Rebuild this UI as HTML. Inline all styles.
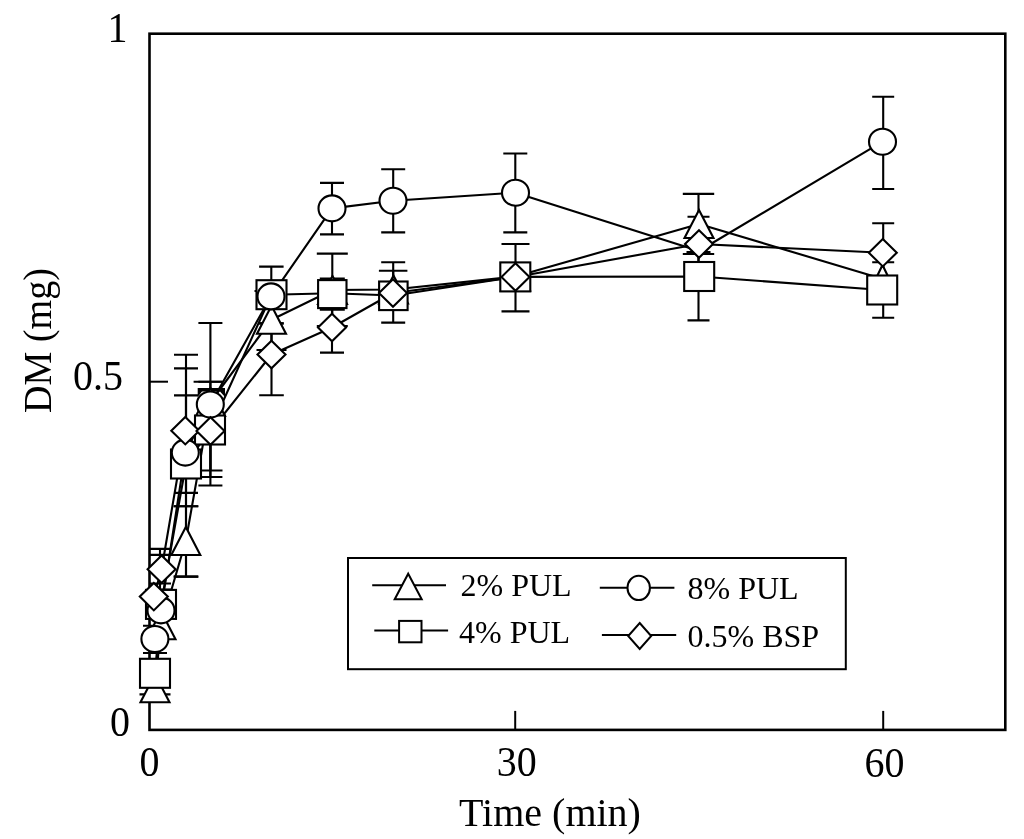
<!DOCTYPE html>
<html lang="en"><head><meta charset="utf-8"><title>DM release vs time</title>
<style>html,body{margin:0;padding:0;background:#fff}body{width:1024px;height:839px;overflow:hidden}svg{display:block}text{font-family:"Liberation Serif","DejaVu Serif",serif;fill:#000}</style>
</head><body>
<svg width="1024" height="839" viewBox="0 0 1024 839">
<rect x="0" y="0" width="1024" height="839" fill="#fff"/>
<g fill="none" stroke="#000" stroke-width="2.6" stroke-linecap="butt">
<rect x="149.5" y="33.7" width="855.8" height="696.2"/>
</g>
<g fill="none" stroke="#000" stroke-width="2">
<line x1="149.5" y1="381.7" x2="168" y2="381.7"/>
<line x1="515.2" y1="710.9" x2="515.2" y2="730"/>
<line x1="883.2" y1="710.9" x2="883.2" y2="730"/>
</g>
<g fill="none" stroke="#000" stroke-width="2.1" stroke-linejoin="round">
<polyline points="155.0,688.3 161.0,625.3 185.8,541.0 210.5,402.0 271.5,319.8 332.5,290.0 393.5,289.5 515.5,276.5 699.0,224.0 882.8,279.0"/>
<polyline points="155.0,673.3 161.0,604.4 186.0,464.0 210.0,430.0 271.5,294.7 332.2,293.3 393.5,295.5 515.3,276.9 699.2,276.5 882.2,290.0"/>
<polyline points="154.9,639.0 161.0,610.4 185.3,452.6 210.3,404.5 271.0,296.4 332.0,208.4 393.0,200.8 515.5,192.7 699.0,251.0 882.5,141.7"/>
<polyline points="153.8,596.6 161.6,569.2 185.3,430.7 210.5,431.0 271.5,354.5 332.0,327.5 393.0,293.0 515.5,277.0 699.0,244.0 882.8,252.7"/>
</g>
<g fill="none" stroke="#000" stroke-width="2.1">
<path d="M139.5 682.0H170.5M155.0 682.0V694.4M139.5 694.4H170.5"/>
<path d="M173.5 506.2H198.5M186.0 506.2V576.6M173.5 576.6H198.5"/>
<path d="M256.5 291.0H286.5M271.5 291.0V350.0M256.5 350.0H286.5"/>
<path d="M316.8 253.6H347.8M332.3 253.6V326.0M316.8 326.0H347.8"/>
<path d="M501.5 244.0H529.5M515.5 244.0V311.4M501.5 311.4H529.5"/>
<path d="M682.8 193.9H714.2M698.5 193.9V254.0M682.8 254.0H714.2"/>
<path d="M174.0 354.8H198.0M186.0 354.8V576.6M174.0 576.6H198.0"/>
<path d="M198.5 389.4H222.5M210.5 389.4V470.5M198.5 470.5H222.5"/>
<path d="M259.1 266.6H283.6M271.3 266.6V323.4M259.1 323.4H283.6"/>
<path d="M319.8 278.6H344.8M332.3 278.6V309.6M319.8 309.6H344.8"/>
<path d="M378.9 270.8H407.4M393.2 270.8V306.0M378.9 306.0H407.4"/>
<path d="M687.5 232.6H709.5M698.5 232.6V320.4M687.5 320.4H709.5"/>
<path d="M872.2 262.3H894.2M883.2 262.3V317.7M872.2 317.7H894.2"/>
<path d="M143.0 625.8H167.0M155.0 625.8V653.0M143.0 653.0H167.0"/>
<path d="M174.0 395.4H198.0M186.0 395.4V506.2M174.0 506.2H198.0"/>
<path d="M198.4 323.0H222.4M210.4 323.0V485.5M198.4 485.5H222.4"/>
<path d="M320.0 182.9H344.0M332.0 182.9V234.4M320.0 234.4H344.0"/>
<path d="M381.2 169.2H405.2M393.2 169.2V232.4M381.2 232.4H405.2"/>
<path d="M503.3 153.5H527.3M515.3 153.5V232.4M503.3 232.4H527.3"/>
<path d="M687.5 216.8H709.5M698.5 216.8V285.2M687.5 285.2H709.5"/>
<path d="M872.2 96.7H894.2M883.2 96.7V189.0M872.2 189.0H894.2"/>
<path d="M149.0 548.9H171.0M160.0 548.9V589.5M149.0 589.5H171.0"/>
<path d="M149.0 554.9H171.0M160.0 554.9V583.5M149.0 583.5H171.0"/>
<path d="M174.0 368.4H198.0M186.0 368.4V492.9M174.0 492.9H198.0"/>
<path d="M198.4 381.8H222.4M210.4 381.8V477.0M198.4 477.0H222.4"/>
<path d="M259.2 323.4H283.8M271.5 323.4V395.3M259.2 395.3H283.8"/>
<path d="M320.0 302.5H344.0M332.0 302.5V352.6M320.0 352.6H344.0"/>
<path d="M381.2 262.2H405.2M393.2 262.2V322.6M381.2 322.6H405.2"/>
<path d="M686.5 236.0H710.5M698.5 236.0V252.0M686.5 252.0H710.5"/>
<path d="M872.2 223.3H894.2M883.2 223.3V282.0M872.2 282.0H894.2"/>
<path d="M193.6 381.8H222.7M254.5 291H259"/>
<polygon points="197.7,388 225,388 225,397 220,391.4 202,391.4 197.7,397" fill="#000" stroke="none"/>
</g>
<g fill="#fff" stroke="#000" stroke-width="2.1" stroke-linejoin="miter">
<polygon points="155.0,674.3 169.5,702.3 140.5,702.3"/>
<polygon points="161.0,611.3 175.5,639.3 146.5,639.3"/>
<polygon points="185.8,527.0 200.3,555.0 171.3,555.0"/>
<polygon points="210.5,388.0 225.0,416.0 196.0,416.0"/>
<polygon points="271.5,305.8 286.0,333.8 257.0,333.8"/>
<polygon points="332.5,276.0 347.0,304.0 318.0,304.0"/>
<polygon points="393.5,275.5 408.0,303.5 379.0,303.5"/>
<polygon points="515.5,262.5 530.0,290.5 501.0,290.5"/>
<polygon points="699.0,210.0 713.5,238.0 684.5,238.0"/>
<polygon points="882.5,265.0 896.0,293.0 869.0,293.0"/>
<rect x="140.0" y="658.8" width="30.0" height="29.0"/>
<rect x="146.0" y="589.9" width="30.0" height="29.0"/>
<rect x="171.0" y="449.5" width="30.0" height="29.0"/>
<rect x="195.0" y="415.5" width="30.0" height="29.0"/>
<rect x="256.5" y="280.2" width="30.0" height="29.0"/>
<rect x="318.1" y="280.1" width="28.4" height="28.0"/>
<rect x="379.1" y="281.5" width="28.5" height="28.6"/>
<rect x="500.3" y="262.4" width="30.0" height="29.0"/>
<rect x="684.2" y="262.0" width="30.0" height="29.0"/>
<rect x="867.2" y="275.5" width="30.0" height="29.0"/>
<ellipse cx="154.9" cy="639.0" rx="13.5" ry="13.0"/>
<ellipse cx="161.0" cy="610.4" rx="13.5" ry="13.0"/>
<ellipse cx="185.3" cy="452.6" rx="13.5" ry="13.0"/>
<ellipse cx="210.3" cy="404.5" rx="13.5" ry="13.0"/>
<ellipse cx="271.0" cy="296.4" rx="13.5" ry="13.0"/>
<ellipse cx="332.0" cy="208.4" rx="13.5" ry="13.0"/>
<ellipse cx="393.0" cy="200.8" rx="13.5" ry="13.0"/>
<ellipse cx="515.5" cy="192.7" rx="13.5" ry="13.0"/>
<ellipse cx="882.5" cy="141.7" rx="13.5" ry="13.0"/>
<polygon points="153.8,582.9 167.8,596.6 153.8,610.4 139.8,596.6"/>
<polygon points="161.6,555.5 175.6,569.2 161.6,583.0 147.6,569.2"/>
<polygon points="185.3,416.9 199.3,430.7 185.3,444.4 171.3,430.7"/>
<polygon points="210.5,417.2 224.5,431.0 210.5,444.8 196.5,431.0"/>
<polygon points="271.5,340.8 285.5,354.5 271.5,368.2 257.5,354.5"/>
<polygon points="332.0,313.8 346.0,327.5 332.0,341.2 318.0,327.5"/>
<polygon points="393.0,279.2 407.0,293.0 393.0,306.8 379.0,293.0"/>
<polygon points="515.5,263.2 529.5,277.0 515.5,290.8 501.5,277.0"/>
<polygon points="699.0,230.2 713.0,244.0 699.0,257.8 685.0,244.0"/>
<polygon points="882.8,238.9 896.8,252.7 882.8,266.4 868.8,252.7"/>
</g>
<g fill="#fff" stroke="#000" stroke-width="2">
<rect x="348" y="558" width="497.8" height="111.2"/>
<path d="M372.2 585.3H446M374.3 630.4H448.1M599.8 587.7H674.4M601.9 634.9H676.2" fill="none"/>
<polygon points="408.2,573.7 421.7,599.3 394.7,599.3"/>
<rect x="399.1" y="620.9" width="22.4" height="21.4"/>
<ellipse cx="638.7" cy="587.9" rx="11.2" ry="12.2"/>
<polygon points="639.7,623.0 651.2,636.0 639.7,649.0 628.2,636.0"/>
</g>
<g font-size="40">
<text transform="translate(127.5 41.6) scale(1 1.045)" text-anchor="end">1</text>
<text transform="translate(123.0 390.0) scale(1 1.045)" text-anchor="end">0.5</text>
<text transform="translate(130.0 735.8) scale(1 1.045)" text-anchor="end">0</text>
<text transform="translate(149.4 776.3) scale(1 1.045)" text-anchor="middle">0</text>
<text transform="translate(516.7 776.0) scale(1 1.045)" text-anchor="middle">30</text>
<text transform="translate(884.6 776.7) scale(1 1.045)" text-anchor="middle">60</text>
<text x="550" y="826.3" text-anchor="middle">Time (min)</text>
<text transform="translate(51.2 340.6) rotate(-90) scale(0.953 1)" text-anchor="middle">DM (mg)</text>
</g>
<g font-size="32">
<text x="460.5" y="595.9">2% PUL</text>
<text x="459" y="642.8">4% PUL</text>
<text x="687.5" y="599.3">8% PUL</text>
<text x="687.5" y="646.8">0.5% BSP</text>
</g>
</svg>
</body></html>
